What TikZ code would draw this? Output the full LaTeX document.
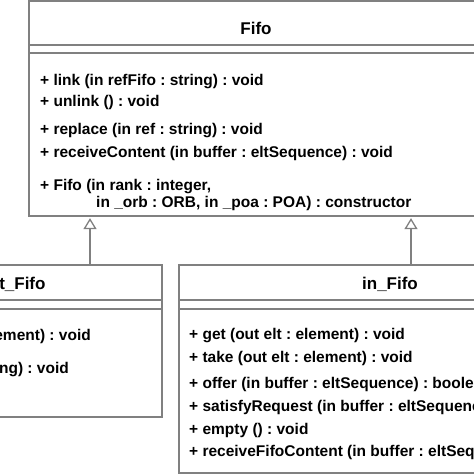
\documentclass[tikz,border=0pt]{standalone}
\usepackage{fontspec}
\setmainfont{Liberation Sans}
\usetikzlibrary{arrows.meta}
\definecolor{linegray}{RGB}{128,128,128}
\frenchspacing
\begin{document}
\begin{tikzpicture}[x=1pt,y=-1pt,
  umlbox/.style={draw=linegray, line width=1.3pt, rectangle, inner sep=0pt},
  sepline/.style={draw=linegray, line width=1.3pt},
  body/.style={inner sep=0pt, font=\bfseries\fontsize{15.5}{18}\selectfont, text=black},
  titletext/.style={inner sep=0pt, font=\bfseries\fontsize{17}{20}\selectfont, text=black},
  inherit/.style={draw=linegray, line width=1.3pt, shorten >=1.5pt,
    -{Triangle[open, length=11pt, width=13pt]}}]
\useasboundingbox (0,0) rectangle (474,474);
\clip (0,0) rectangle (474,474);
\fill[white] (0,0) rectangle (474,474);
% boxes
\node[umlbox, minimum width=454pt, minimum height=215pt] (fifo) at (256,108.5) {};
\node[umlbox, minimum width=300pt, minimum height=152pt] (outfifo) at (12,341) {};
\node[umlbox, minimum width=422pt, minimum height=208pt] (infifo) at (390,369) {};
% separators
\draw[sepline] (29,45) -- (483,45);
\draw[sepline] (29,53) -- (483,53);
\draw[sepline] (-138,300) -- (162,300);
\draw[sepline] (-138,309) -- (162,309);
\draw[sepline] (179,300) -- (601,300);
\draw[sepline] (179,309) -- (601,309);
% titles
\node[titletext, anchor=base] (fifotitle) at (256,34) {Fifo};
\node[titletext, anchor=base] (outtitle) at (12,289) {out\_Fifo};
\node[titletext, anchor=base] (intitle) at (390,289) {in\_Fifo};
% Fifo operations
\node[body, anchor=base west] (f1) at (40,85) {+ link (in refFifo : string) : void};
\node[body, anchor=base west] (f2) at (40,106) {+ unlink () : void};
\node[body, anchor=base west] (f3) at (40,134) {+ replace (in ref : string) : void};
\node[body, anchor=base west] (f4) at (40,157) {+ receiveContent (in buffer : eltSequence) : void};
\node[body, anchor=base west] (f5) at (40,190) {+ Fifo (in rank : integer,};
\node[body, anchor=base west] (f6) at (96,207) {in \_orb : ORB, in \_poa : POA) : constructor};
% out_Fifo operations
\node[body, anchor=base east] (o1) at (91,340) {+ put (in elt : element) : void};
\node[body, anchor=base east] (o2) at (69,373) {+ link (in refFifo : string) : void};
% in_Fifo operations
\node[body, anchor=base west] (i1) at (189,339) {+ get (out elt : element) : void};
\node[body, anchor=base west] (i2) at (189,362) {+ take (out elt : element) : void};
\node[body, anchor=base west] (i3) at (189,388) {+ offer (in buffer : eltSequence) : boolean};
\node[body, anchor=base west] (i4) at (189,411) {+ satisfyRequest (in buffer : eltSequence) : void};
\node[body, anchor=base west] (i5) at (189,434) {+ empty () : void};
\node[body, anchor=base west] (i6) at (189,456) {+ receiveFifoContent (in buffer : eltSequence) : void};
% inheritance
\coordinate (ax1) at (90,0);
\coordinate (ax2) at (411,0);
\draw[inherit] (outfifo.north -| ax1) -- (fifo.south -| ax1);
\draw[inherit] (infifo.north -| ax2) -- (fifo.south -| ax2);
\end{tikzpicture}
\end{document}
